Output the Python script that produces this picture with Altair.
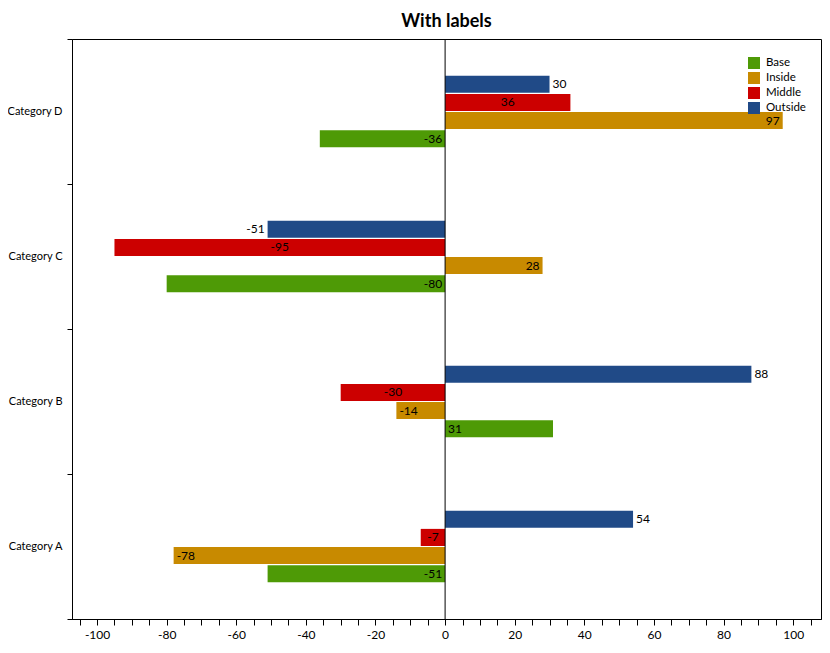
import altair as alt
import pandas as pd

categories = ["Category A", "Category B", "Category C", "Category D"]
series = ["Base", "Inside", "Middle", "Outside"]
colors = ["#4e9a06", "#c88a00", "#cc0000", "#204a87"]
base_vals = [-51, 31, -80, -36]
inside_vals = [-78, -14, 28, 97]
middle_vals = [-7, -30, -95, 36]
outside_vals = [54, 88, -51, 30]
x_ticks = [-105, -100, -95, -90, -85, -80, -75, -70, -65, -60, -55, -50, -45, -40,
           -35, -30, -25, -20, -15, -10, -5, 0, 5, 10, 15, 20, 25, 30, 35, 40, 45,
           50, 55, 60, 65, 70, 75, 80, 85, 90, 95, 100, 105]

rows = []
for s, vals in zip(series, [base_vals, inside_vals, middle_vals, outside_vals]):
    for c, v in zip(categories, vals):
        if s == "Base":
            anchor, align = 0, ("right" if v < 0 else "left")
        elif s == "Inside":
            anchor, align = v, ("left" if v < 0 else "right")
        elif s == "Middle":
            anchor, align = v / 2, "center"
        else:
            anchor, align = v, ("left" if v >= 0 else "right")
        rows.append(dict(category=c, series=s, value=v, anchor=anchor,
                         align=align, label=str(v)))
df = pd.DataFrame(rows)

FONT = "Lato"

# slot order inside each category band (top to bottom), with empty slots as spacing
offset_domain = ["_p1", "_p2"] + series[::-1] + ["_p3", "_p4"]

x_scale = alt.Scale(domain=[-107.2, 108], nice=False, zero=False)
x_axis = alt.Axis(title=None, values=x_ticks, grid=False, tickSize=6,
                  labelExpr="datum.value % 20 == 0 ? toString(datum.value) : ''",
                  labelPadding=4, labelFlush=False, labelOverlap=False)
y_enc = alt.Y("category:N", sort=categories[::-1],
              scale=alt.Scale(paddingInner=0, paddingOuter=0),
              axis=alt.Axis(title=None, tickBand="extent", tickSize=5,
                            labelPadding=5, labelFontSize=11, grid=False))
yoff = alt.YOffset("series:N",
                   scale=alt.Scale(domain=offset_domain, paddingInner=0.056,
                                   paddingOuter=0.028))

bars = alt.Chart(df).mark_bar().encode(
    x=alt.X("value:Q", scale=x_scale, axis=x_axis),
    y=y_enc,
    yOffset=yoff,
    color=alt.Color("series:N", scale=alt.Scale(domain=series, range=colors),
                    legend=alt.Legend(orient="none", legendX=676, legendY=18,
                                      title=None, symbolType="square",
                                      symbolSize=144, labelFontSize=11.5,
                                      rowPadding=3, labelOffset=6,
                                      symbolStrokeWidth=0, labelColor="black",
                                      labelFont=FONT)),
)

texts = []
for al, dx in [("left", 3), ("right", -3), ("center", 0)]:
    texts.append(
        alt.Chart(df).transform_filter(f"datum.align == '{al}'")
        .mark_text(align=al, dx=dx, baseline="middle", fontSize=12,
                   color="black", font=FONT)
        .encode(
            x=alt.X("anchor:Q", scale=x_scale, axis=x_axis),
            y=y_enc,
            yOffset=yoff,
            text="label:N",
        )
    )

zero = alt.Chart(pd.DataFrame({"z": [0]})).mark_rule(color="black", strokeWidth=1).encode(
    x=alt.X("z:Q", scale=x_scale, axis=x_axis)
)

chart = alt.layer(bars, zero, *texts).properties(
    width=749, height=580,
    title=alt.TitleParams("With labels", fontSize=18, fontWeight="bold",
                          font=FONT, color="black", anchor="middle", offset=2),
    autosize=alt.AutoSizeParams(type="none"),
    padding={"left": 64, "top": 31, "right": 1, "bottom": 26},
).configure_view(stroke="black", strokeWidth=1).configure_axis(
    domainColor="black", tickColor="black", labelColor="black",
    labelFontSize=12, labelFont=FONT, domainWidth=1, tickWidth=1
)

chart.save("out.html", embed_options={"renderer": "svg", "actions": False})
